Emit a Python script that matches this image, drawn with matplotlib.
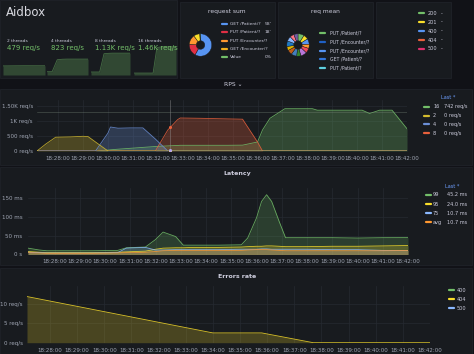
import numpy as np
import matplotlib
matplotlib.use("Agg")
import matplotlib.pyplot as plt
from matplotlib.patches import Rectangle
from matplotlib.lines import Line2D

# ---- data ----
stat_names = ["2 threads", "4 threads", "8 threads", "16 threads"]
stat_values = ["479 req/s", "823 req/s", "1.13K req/s", "1.46K req/s"]
spark_2 = [470, 475, 480, 479, 479]
spark_4 = [170, 170, 790, 815, 823, 823, 823, 823, 823]
spark_8 = [155, 155, 155, 1100, 1120, 1130, 1130, 1130, 1130, 1130]
spark_16 = [100, 100, 100, 100, 100, 100, 1420, 1450, 1460, 1460, 1460, 1460]

req_sum_labels = ["GET /Patient/?", "PUT /Patient/?", "PUT /Encounter/?", "GET /Encounter/?", "Value"]
req_sum_pct = ["58'", "18'", "", "", "0%"]
req_sum_values = [58, 18, 14, 9, 1]

req_mean_labels = ["PUT /Patient/?", "PUT /Encounter/?", "PUT /Encounter/?", "GET /Patient/?", "PUT /Patient/?"]
req_mean_values = [9, 7, 8, 6, 7, 9, 6, 8, 7, 6, 8, 7, 6, 6]

status_codes = ["200", "201", "400", "404", "500"]

# RPS (minutes after 18:00)
rps_t = [27.15, 27.5, 27.9, 28.5, 29.0, 29.2, 29.5, 30.0, 30.1, 30.4, 30.9, 31.4, 31.9, 32.4,
         32.8, 32.9, 33.7, 34.8, 35.4, 36.0, 36.2, 36.5, 36.8, 37.1, 38.2, 38.4, 39.3, 40.2,
         40.5, 40.9, 41.4, 42.0]
rps_2 = [0, 230, 460, 470, 490, 480, 300, 0, 0, 0, 0, 0, 0, 0,
         0, 0, 0, 0, 0, 0, 0, 0, 0, 0, 0, 0, 0, 0, 0, 0, 0, 0]
rps_4 = [0, 0, 0, 0, 0, 0, 0, 600, 800, 760, 770, 770, 400, 0,
         0, 0, 0, 0, 0, 0, 0, 0, 0, 0, 0, 0, 0, 0, 0, 0, 0, 0]
rps_8 = [0, 0, 0, 0, 0, 0, 0, 0, 0, 0, 0, 0, 0, 700,
         1050, 1100, 1090, 1070, 1060, 300, 0, 0, 0, 0, 0, 0, 0, 0, 0, 0, 0, 0]
rps_16 = [0, 0, 0, 0, 0, 0, 0, 30, 40, 60, 90, 120, 150, 170,
          185, 190, 190, 190, 195, 300, 700, 1090, 1250, 1410, 1410, 1360, 1360, 1360,
          1250, 1360, 1360, 742]
rps_names = ["16", "2", "4", "8"]
rps_last = ["742 req/s", "0 req/s", "0 req/s", "0 req/s"]
hover_t = 32.5

# Latency (ms)
lat_t = [26.95, 27.4, 27.7, 28.5, 29.5, 30.5, 30.85, 31.2, 31.6, 32.0, 32.3, 32.8, 33.1, 33.5,
         34.5, 35.4, 35.65, 36.0, 36.2, 36.4, 36.6, 36.9, 37.15, 38.0, 39.0, 40.0, 41.0, 42.0]
lat_99 = [17, 12, 10, 10, 10, 11, 18, 19, 20, 40, 60, 48, 25, 25,
          25, 26, 44, 98, 142, 160, 142, 88, 45, 45, 45, 44, 45, 45.2]
lat_95 = [8, 6, 5, 5, 5, 6, 7, 8, 9, 14, 17, 18, 18, 19,
          19, 20, 21, 22, 22, 23, 23, 22, 21, 21, 22, 22, 23, 24.0]
lat_75 = [6, 5, 4, 4, 4, 5, 17, 18, 19, 12, 12, 13, 13, 13,
          13, 14, 14, 14, 15, 15, 14, 14, 14, 14, 13, 13, 11, 10.7]
lat_avg = [5, 4, 3, 3, 3, 4, 5, 5, 6, 8, 10, 11, 11, 11,
           11, 11, 12, 13, 13, 13, 12, 11, 10, 10, 10, 10, 10, 10.7]
lat_names = ["99", "95", "75", "avg"]
lat_last = ["45.2 ms", "24.0 ms", "10.7 ms", "10.7 ms"]

# Errors rate (req/s)
err_t = [27.15, 34.0, 35.8, 37.7, 42.0]
err_404 = [11.8, 2.5, 2.5, 0, 0]
err_400 = [0, 0, 0, 0, 0]
err_500 = [0, 0, 0, 0, 0]
err_names = ["400", "404", "500"]

minutes = list(range(28, 43))
time_labels = [f"18:{m:02d}:00" for m in minutes]

# ---- style ----
BG = "#111217"
PANEL = "#181b1f"
BORDER = "#22252b"
TXT = "#ccccdc"
DIM = "#a0a6b4"
GRID = "#262a31"
GREEN = "#73bf69"
YELLOW = "#fade2a"
BLUE = "#5794f2"
ORANGE = "#ff9830"
RED = "#f2495c"
REDOR = "#e8603c"
LBLUE = "#8ab8ff"

W, H = 474, 354
fig = plt.figure(figsize=(W / 100, H / 100), dpi=100)
fig.patch.set_facecolor(BG)


def panel(x0, y0, x1, y1):
    fig.add_artist(Rectangle((x0 / W, 1 - y1 / H), (x1 - x0) / W, (y1 - y0) / H,
                             transform=fig.transFigure, fc=PANEL, ec=BORDER, lw=0.5,
                             zorder=-5))


def txt(x, y, s, size=4.3, color=TXT, **kw):
    kw.setdefault("va", "center")
    fig.text(x / W, 1 - y / H, s, fontsize=size, color=color, **kw)


def mark(x, y, color):
    fig.add_artist(Line2D([x / W, (x + 5) / W], [1 - y / H, 1 - y / H], transform=fig.transFigure,
                          color=color, lw=1.6, solid_capstyle="round"))


def add_ax(x0, y0, x1, y1):
    return fig.add_axes([x0 / W, 1 - y1 / H, (x1 - x0) / W, (y1 - y0) / H])


def ts_axes(rect, xlim, ylim, yticks, ylabels, xpad, ypad):
    ax = add_ax(*rect)
    ax.set_facecolor("none")
    ax.set_xlim(xlim)
    ax.set_ylim(ylim)
    ax.set_xticks(minutes)
    ax.set_xticklabels(time_labels)
    ax.set_yticks(yticks)
    ax.set_yticklabels(ylabels)
    ax.tick_params(axis="x", length=0, pad=xpad, labelsize=4.0, labelcolor=DIM)
    ax.tick_params(axis="y", length=0, pad=ypad, labelsize=4.0, labelcolor=DIM)
    for s in ax.spines.values():
        s.set_visible(False)
    ax.grid(color=GRID, lw=0.5)
    ax.set_axisbelow(True)
    return ax


def area(ax, t, v, color, alpha=0.28, lw=0.6):
    ax.fill_between(t, v, color=color, alpha=alpha, lw=0)
    ax.plot(t, v, color=color, lw=lw, alpha=0.85)


# ---- panels ----
panel(0, 0, 177, 78)
panel(180, 2, 275, 78)
panel(278, 2, 373, 78)
panel(376, 2, 451, 78)
panel(0, 89, 472, 165)
panel(0, 167, 472, 265)
panel(0, 268, 472, 354)

# Aidbox title + stat sparklines
txt(6, 13, "Aidbox", size=8.5, color="#d8d9e0")
boxes = [(3, 45), (47, 88), (91, 130), (134, 176)]
sparks = [spark_2, spark_4, spark_8, spark_16]
for (x0, x1), name, val, sp in zip(boxes, stat_names, stat_values, sparks):
    txt(x0 + 4, 41, name, size=3.2, color=TXT)
    txt(x0 + 4, 48, val, size=5.0, color=GREEN)
    ax = add_ax(x0, 46, x1, 75)
    ax.set_facecolor("none")
    ax.axis("off")
    xs = np.arange(len(sp))
    ax.fill_between(xs, sp, color=GREEN, alpha=0.28, lw=0)
    ax.plot(xs, sp, color=GREEN, lw=0.6, alpha=0.5)
    ax.set_xlim(0, len(sp) - 1)
    ax.set_ylim(0, 1500)

# request sum pie
txt(227, 11, "request sum", size=4.3, color=TXT, ha="center")
ax = add_ax(186.5, 31, 214.5, 59)
ax.pie(req_sum_values, colors=[BLUE, "#e02f44", ORANGE, YELLOW, GREEN], startangle=90,
       counterclock=False, wedgeprops=dict(width=0.62, edgecolor=PANEL, lw=0.3))
sum_cols = [BLUE, "#e02f44", ORANGE, "#f2b01e", GREEN]
for i, (lab, pct, c) in enumerate(zip(req_sum_labels, req_sum_pct, sum_cols)):
    y = 24 + i * 8.3
    mark(222, y, c)
    txt(230, y, lab, size=3.2)
    txt(265, y, pct, size=3.2)

# req mean pie
txt(325, 11, "req mean", size=4.3, color=TXT, ha="center")
ax = add_ax(284, 31, 312, 59)
mean_cols = [GREEN, YELLOW, BLUE, ORANGE, RED, "#b877d9", "#37872d", "#447ebc",
             "#c15c17", "#e0b400", "#1f78c1", "#8ab8ff", "#ff7383", "#705da0"]
ax.pie(req_mean_values, colors=mean_cols, startangle=90, counterclock=False,
       wedgeprops=dict(width=0.62, edgecolor=PANEL, lw=0.3))
mean_leg_cols = [GREEN, "#1f60c4", BLUE, "#3274d9", "#5fd0e0"]
for i, (lab, c) in enumerate(zip(req_mean_labels, mean_leg_cols)):
    y = 33 + i * 8.8
    mark(320, y, c)
    txt(330, y, lab, size=3.3)

# status legend
status_cols = [GREEN, YELLOW, BLUE, REDOR, "#e02f6c"]
for i, (code, c) in enumerate(zip(status_codes, status_cols)):
    y = 13.3 + i * 8.9
    mark(419, y, c)
    txt(428, y, code, size=3.6)
    txt(441, y, "-", size=3.6)

# RPS
txt(233, 84, "RPS \u2304", size=4.3, color=TXT, ha="center")
ax = ts_axes((37, 100, 407, 151), (27.15, 42.0), (0, 1700), [0, 500, 1000, 1500],
             ["0 req/s", "500 req/s", "1K req/s", "1.50K req/s"], 3.8, 3.0)
rps_cols = [GREEN, "#d4bb2e", "#6b8fd6", REDOR]
for v, c in zip([rps_16, rps_8, rps_4, rps_2], [GREEN, REDOR, "#6b8fd6", "#d4bb2e"]):
    area(ax, rps_t, v, c)
ax.axvline(hover_t, color="#9a9a9a", lw=0.4, alpha=0.7)
ax.axhline(1290, color="#7a8a7a", lw=0.4, alpha=0.6)
ax.scatter([hover_t], [np.interp(hover_t, rps_t, rps_8)], s=5, color=REDOR, zorder=5, lw=0)
ax.scatter([hover_t], [np.interp(hover_t, rps_t, rps_2)], s=5, color="#f0e040", zorder=5, lw=0)
ax.scatter([hover_t], [np.interp(hover_t, rps_t, rps_16) - 130], s=5, color="#b0a0f0", zorder=5, lw=0)
txt(448, 97.5, "Last *", size=3.6, color="#6e9fff", ha="center")
for i, (n, last, c) in enumerate(zip(rps_names, rps_last, rps_cols)):
    y = 106.7 + i * 8.9
    mark(424, y, c)
    txt(433, y, n, size=3.6)
    txt(444, y, last, size=3.6)

# Latency
txt(237, 173, "Latency", size=4.5, color=TXT, ha="center", fontweight="bold")
ax = ts_axes((28, 188, 408, 254.5), (26.95, 42.0), (0, 178), [0, 50, 100, 150],
             ["0 s", "50 ms", "100 ms", "150 ms"], 3.2, 4.0)
lat_cols = [GREEN, YELLOW, LBLUE, ORANGE]
for v, c in zip([lat_99, lat_95, lat_75, lat_avg], lat_cols):
    area(ax, lat_t, v, c, alpha=0.22)
txt(452, 186, "Last *", size=3.6, color="#6e9fff", ha="center")
for i, (n, last, c) in enumerate(zip(lat_names, lat_last, lat_cols)):
    y = 195 + i * 9.1
    mark(426, y, c)
    txt(433, y, n, size=3.6)
    txt(447, y, last, size=3.6)

# Errors rate
txt(237, 277, "Errors rate", size=4.5, color=TXT, ha="center", fontweight="bold")
ax = ts_axes((27, 286, 430, 342.7), (27.15, 42.0), (0, 14.5), [0, 5, 10],
             ["0 req/s", "5 req/s", "10 req/s"], 3.5, 3.0)
err_cols = [GREEN, YELLOW, LBLUE]
for v, c in zip([err_400, err_404, err_500], err_cols):
    area(ax, err_t, v, c, alpha=0.22)
for i, (n, c) in enumerate(zip(err_names, err_cols)):
    y = 290 + i * 9.1
    mark(449, y, c)
    txt(457, y, n, size=3.6)

fig.savefig("out.png", dpi=100, facecolor=BG)
